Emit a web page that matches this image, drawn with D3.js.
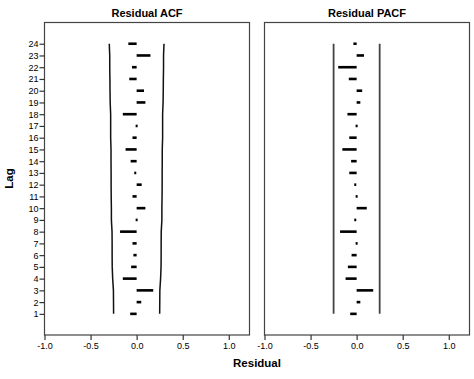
<!DOCTYPE html>
<html>
<head>
<meta charset="utf-8">
<script src="https://cdn.jsdelivr.net/npm/d3@7"></script>
<style>
  html, body { margin: 0; padding: 0; background: #fff; }
  svg { display: block; }
  text { font-family: "Liberation Sans", Arial, sans-serif; fill: #000; }
</style>
</head>
<body>
<svg id="chart" width="474" height="379"></svg>
<script>
// ---- data ----
const lags = d3.range(1, 25);
const acfValues = [-0.07, 0.05, 0.18, -0.15, -0.06, -0.035, -0.045, -0.18, 0.01, 0.095,
                   -0.045, 0.055, -0.015, -0.065, -0.12, -0.045, 0.005, -0.15, 0.095, 0.08,
                   -0.08, -0.05, 0.15, -0.09];
const pacfValues = [-0.07, 0.04, 0.18, -0.12, -0.095, -0.055, 0.005, -0.18, -0.015, 0.11,
                    0.01, -0.015, -0.08, -0.06, -0.155, -0.08, 0.01, -0.1, 0.04, 0.06,
                    -0.085, -0.2, 0.08, -0.035];
const acfLimit = [0.250, 0.251, 0.252, 0.260, 0.265, 0.266, 0.266, 0.267, 0.274, 0.274,
                  0.276, 0.277, 0.277, 0.278, 0.278, 0.282, 0.282, 0.282, 0.287, 0.289,
                  0.290, 0.292, 0.292, 0.297];
const pacfLimit = [0.25, 0.25, 0.25, 0.25, 0.25, 0.25, 0.25, 0.25, 0.25, 0.25,
                   0.25, 0.25, 0.25, 0.25, 0.25, 0.25, 0.25, 0.25, 0.25, 0.25,
                   0.25, 0.25, 0.25, 0.25];
const xTicks = [-1.0, -0.5, 0.0, 0.5, 1.0];
const xTickLabels = ["-1.0", "-0.5", "0.0", "0.5", "1.0"];
const panelTitles = ["Residual ACF", "Residual PACF"];
const xTitle = "Residual";
const yTitle = "Lag";

// ---- layout ----
const svg = d3.select("#chart");
const plotTop = 22, plotBottom = 335;
const panels = [
  { left: 44.5, right: 249.5, values: acfValues, limit: acfLimit, title: panelTitles[0], yAxis: true,
    limColor: "#111", limWidth: 1.5 },
  { left: 264.5, right: 469.5, values: pacfValues, limit: pacfLimit, title: panelTitles[1], yAxis: false,
    limColor: "#444", limWidth: 1.8 }
];
const y = d3.scaleLinear().domain([-0.8, 25.85]).range([plotBottom, plotTop]);

panels.forEach(p => {
  const x = d3.scaleLinear().domain([-1, 1.225]).range([p.left, p.right]);
  const g = svg.append("g");

  // frame
  g.append("rect")
    .attr("x", p.left).attr("y", plotTop + 0.5)
    .attr("width", p.right - p.left).attr("height", plotBottom - plotTop - 0.5)
    .attr("fill", "none").attr("stroke", "#444").attr("stroke-width", 1.2);

  // x axis
  const xa = g.append("g").attr("transform", `translate(0,${plotBottom})`)
    .call(d3.axisBottom(x).tickValues(xTicks)
      .tickFormat((d, i) => xTickLabels[i]).tickSize(5).tickPadding(3));
  xa.select(".domain").remove();
  xa.selectAll("line").attr("stroke", "#333").attr("stroke-width", 1.2);
  xa.selectAll("text").style("font-size", "9px").attr("fill", "#000");

  // y axis
  if (p.yAxis) {
    const ya = g.append("g").attr("transform", `translate(${p.left},0)`)
      .call(d3.axisLeft(y).tickValues(lags).tickFormat(d3.format("d")).tickSize(5).tickPadding(1));
    ya.select(".domain").remove();
    ya.selectAll("line").attr("stroke", "#333").attr("stroke-width", 1.2);
    ya.selectAll("text").style("font-size", "9px").attr("fill", "#000");
  }

  // confidence limits
  const line = d3.line().x(d => x(d[0])).y(d => y(d[1]));
  [1, -1].forEach(s => {
    g.append("path")
      .attr("d", line(lags.map((l, i) => [s * p.limit[i], l])))
      .attr("fill", "none").attr("stroke", p.limColor).attr("stroke-width", p.limWidth);
  });

  // bars
  g.selectAll("rect.bar").data(p.values).enter().append("rect")
    .attr("class", "bar")
    .attr("x", d => Math.min(x(0), x(d)) - (Math.abs(x(d) - x(0)) < 2 ? 1 : 0))
    .attr("width", d => Math.max(2, Math.abs(x(d) - x(0))))
    .attr("y", (d, i) => y(lags[i]) - 1.3)
    .attr("height", 2.6)
    .attr("fill", "#000");

  // title
  svg.append("text")
    .attr("x", (p.left + p.right) / 2).attr("y", 17)
    .attr("text-anchor", "middle")
    .style("font-size", "11px").style("font-weight", "bold")
    .text(p.title);
});

// axis titles
svg.append("text")
  .attr("x", (panels[0].left + panels[1].right) / 2).attr("y", 367)
  .attr("text-anchor", "middle")
  .style("font-size", "11.5px").style("font-weight", "bold")
  .text(xTitle);
svg.append("text")
  .attr("transform", `translate(13,${(plotTop + plotBottom) / 2}) rotate(-90)`)
  .attr("text-anchor", "middle")
  .style("font-size", "11.5px").style("font-weight", "bold")
  .text(yTitle);
</script>
</body>
</html>
